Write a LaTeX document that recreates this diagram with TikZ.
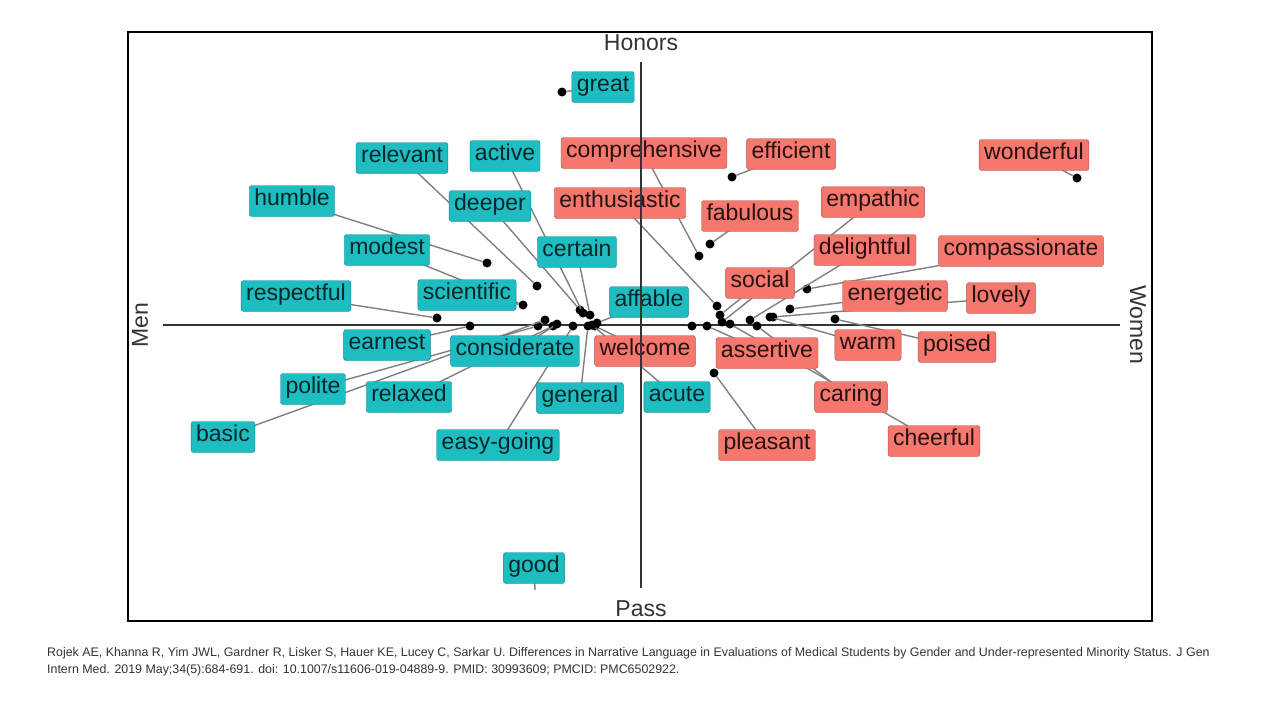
\documentclass[tikz,border=0pt]{standalone}
\usepackage{fontspec}
\setmainfont{Liberation Sans}
\begin{document}
\begin{tikzpicture}[x=1pt,y=-1pt,
  lab/.style={draw=#1!70!black,fill=#1,rounded corners=2.5pt,inner xsep=5pt,inner ysep=0pt,minimum height=31pt,
     font=\fontsize{23}{24}\selectfont,text=black!85},
  tl/.style={lab=tealc,text=black!80!tealc},rd/.style={lab=redc,text=black!85!redc},
  dot/.style={circle,fill=black,inner sep=0pt,minimum size=9pt},
  ln/.style={draw=black!50,line width=1.4pt},
  ax/.style={draw=black!80,line width=1.6pt},
  axl/.style={font=\fontsize{23}{25}\selectfont,text=black!80}]
\definecolor{tealc}{HTML}{1DBDC2}
\definecolor{redc}{HTML}{F5776E}
\useasboundingbox (0,0) rectangle (1280,720);
\fill[white] (0,0) rectangle (1280,720);
\draw[black,line width=1.8pt] (128,32) rectangle (1152,621);
\coordinate (axL) at (163,325); \coordinate (axR) at (1120,325);
\coordinate (axT) at (641,62); \coordinate (axB) at (641,588);
\draw[ax] (axL) -- (axR);
\node[axl] (hon) at (641,43) {Honors};
\node[axl] (pas) at (641,609) {Pass};
\node[axl,rotate=90] (men) at (140,325) {Men};
\node[axl,rotate=-90] (wom) at (1138,325) {Women};
% dots
\foreach \n/\x/\y in {great/562/92,humble/487/263,modest/523/305,relevant/537/286,deeper/580/310,active/583/313,
  certain/590/315,respectful/437/318,earnest/470/326,polite/538/326,basic/545/320,relaxed/553/326,considerate/557/324,
  easygoing/573/326,general/588/326,welcome/595/326,acute/592/325,affable/597/323,
  fabulous/710/244,comprehensive/699/256,enthusiastic/717/306,social/720/315,empathic/722/322,cheerful/730/324,
  x1/692/326,assertive/707/326,delightful/750/320,caring/757/326,energetic/790/309,lovely/773/317,warm/770/317,
  compassionate/807/289,poised/835/319,wonderful/1077/178,efficient/732/177,pleasant/714/373}
  {\node[dot] (d\n) at (\x,\y) {};}
\coordinate (dgood) at (535,590);
% label positions
\foreach \n/\x/\y in {great/603/87,relevant/402/158,active/505/156,humble/292/201,
  deeper/490/206,modest/387/250,certain/577/252,respectful/296/296,
  scientific/467/295,affable/649/302,earnest/387/345,considerate/515/351,
  polite/313/389,relaxed/409/397,general/580/398,acute/677/397,basic/223/437,
  easygoing/498/445,good/534/568,
  comprehensive/644/153,efficient/791/154,wonderful/1034/155,
  enthusiastic/620/203,fabulous/750/216,empathic/873/202,delightful/865/250,
  compassionate/1021/251,social/760/283,energetic/895/296,lovely/1001/298,
  welcome/645/351,assertive/767/353,warm/868/345,poised/957/347,caring/851/397,
  pleasant/767/445,cheerful/934/441}
  {\path (\x,\y) coordinate (p\n);}
% connectors
\foreach \a/\b in {great/great,relevant/relevant,active/active,humble/humble,deeper/deeper,modest/modest,certain/certain,
  respectful/respectful,scientific/modest,affable/affable,earnest/earnest,considerate/considerate,polite/polite,
  relaxed/relaxed,general/general,acute/acute,basic/basic,easygoing/easygoing,good/good,
  comprehensive/comprehensive,efficient/efficient,wonderful/wonderful,enthusiastic/enthusiastic,fabulous/fabulous,
  empathic/empathic,delightful/delightful,compassionate/compassionate,social/social,energetic/energetic,lovely/lovely,
  welcome/welcome,assertive/assertive,warm/warm,poised/poised,caring/caring,pleasant/pleasant,cheerful/cheerful}
  {\draw[ln] (p\a) -- (d\b);}
\foreach \n/\t in {great/great,relevant/relevant,active/active,humble/humble,
  deeper/deeper,modest/modest,certain/certain,respectful/respectful,
  scientific/scientific,affable/affable,earnest/earnest,considerate/considerate,
  polite/polite,relaxed/relaxed,general/general,acute/acute,basic/basic,
  easygoing/easy-going,good/good}
  {\node[tl] (l\n) at (p\n) {\raisebox{-3pt}{\strut\t}};}
\foreach \n in {comprehensive,efficient,wonderful,enthusiastic,fabulous,empathic,delightful,
  compassionate,social,energetic,lovely,welcome,assertive,warm,poised,caring,pleasant,cheerful}
  {\node[rd] (l\n) at (p\n) {\raisebox{-3pt}{\strut\n}};}
\draw[ax] (axT) -- (axB);
\node[anchor=north west,align=left,font=\fontsize{12.4}{17}\selectfont,text=black!80,inner sep=0pt] (cap) at (47,647)
 {Rojek AE, Khanna R, Yim JWL, Gardner R, Lisker S, Hauer KE, Lucey C, Sarkar U. Differences in Narrative Language in Evaluations of Medical Students by Gender and Under-represented Minority Status. J Gen\\
 Intern Med. 2019 May;34(5):684-691. doi: 10.1007/s11606-019-04889-9. PMID: 30993609; PMCID: PMC6502922.};
\end{tikzpicture}
\end{document}
